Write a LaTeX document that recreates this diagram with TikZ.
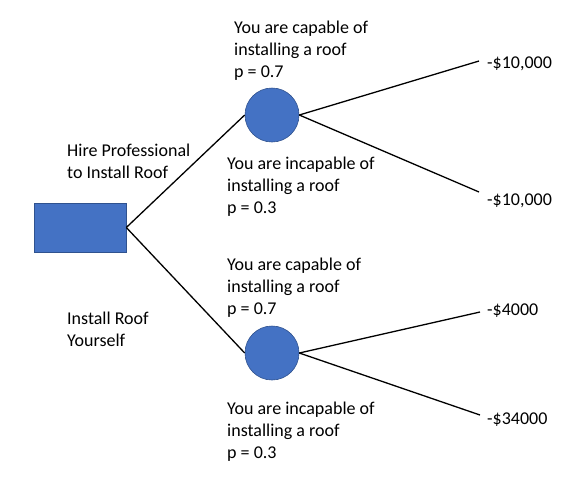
\documentclass[tikz,border=0pt]{standalone}
\usepackage{fontspec}
\setmainfont{Carlito}
\begin{document}
\begin{tikzpicture}[x=1pt,y=-1pt,
  lbl/.style={anchor=west,inner sep=0pt,align=left,font=\fontsize{18pt}{22pt}\selectfont},
  pay/.style={anchor=west,inner sep=0pt,font=\fontsize{18pt}{22pt}\selectfont},
  chance/.style={circle,minimum size=54pt,inner sep=0pt,fill={rgb,255:red,68;green,114;blue,196},draw={rgb,255:red,47;green,82;blue,143},line width=0.6pt},
  decision/.style={rectangle,minimum width=92pt,minimum height=49pt,inner sep=0pt,fill={rgb,255:red,68;green,114;blue,196},draw={rgb,255:red,47;green,82;blue,143},line width=0.6pt},
  branch/.style={line width=1.3pt,black}]
\useasboundingbox (0,0) rectangle (583,491);
\node[decision] (d) at (80,227.5) {};
\node[chance] (c1) at (272,115) {};
\node[chance] (c2) at (272,353) {};
\coordinate (e1) at (479,61);
\coordinate (e2) at (479,192);
\coordinate (e3) at (480,312);
\coordinate (e4) at (480,415);
\draw[branch] (d.east) -- (c1.west);
\draw[branch] (d.east) -- (c2.west);
\draw[branch] (c1.east) -- (e1);
\draw[branch] (c1.east) -- (e2);
\draw[branch] (c2.east) -- (e3);
\draw[branch] (c2.east) -- (e4);
\node[pay] (p1) at (487,63.5) {-\$10,000};
\node[pay] (p2) at (487,200.5) {-\$10,000};
\node[pay] (p3) at (487,310.5) {-\$4000};
\node[pay] (p4) at (487,419.5) {-\$34000};
\node[lbl] (t1) at (234,51) {You are capable of\\installing a roof\\p = 0.7};
\node[lbl] (t2) at (227,186.5) {You are incapable of\\installing a roof\\p = 0.3};
\node[lbl] (t3) at (227,287.5) {You are capable of\\installing a roof\\p = 0.7};
\node[lbl] (t4) at (227,431.5) {You are incapable of\\installing a roof\\p = 0.3};
\node[lbl] (h1) at (67,161) {Hire Professional\\to Install Roof};
\node[lbl] (h2) at (67,329) {Install Roof\\Yourself};
\end{tikzpicture}
\end{document}
